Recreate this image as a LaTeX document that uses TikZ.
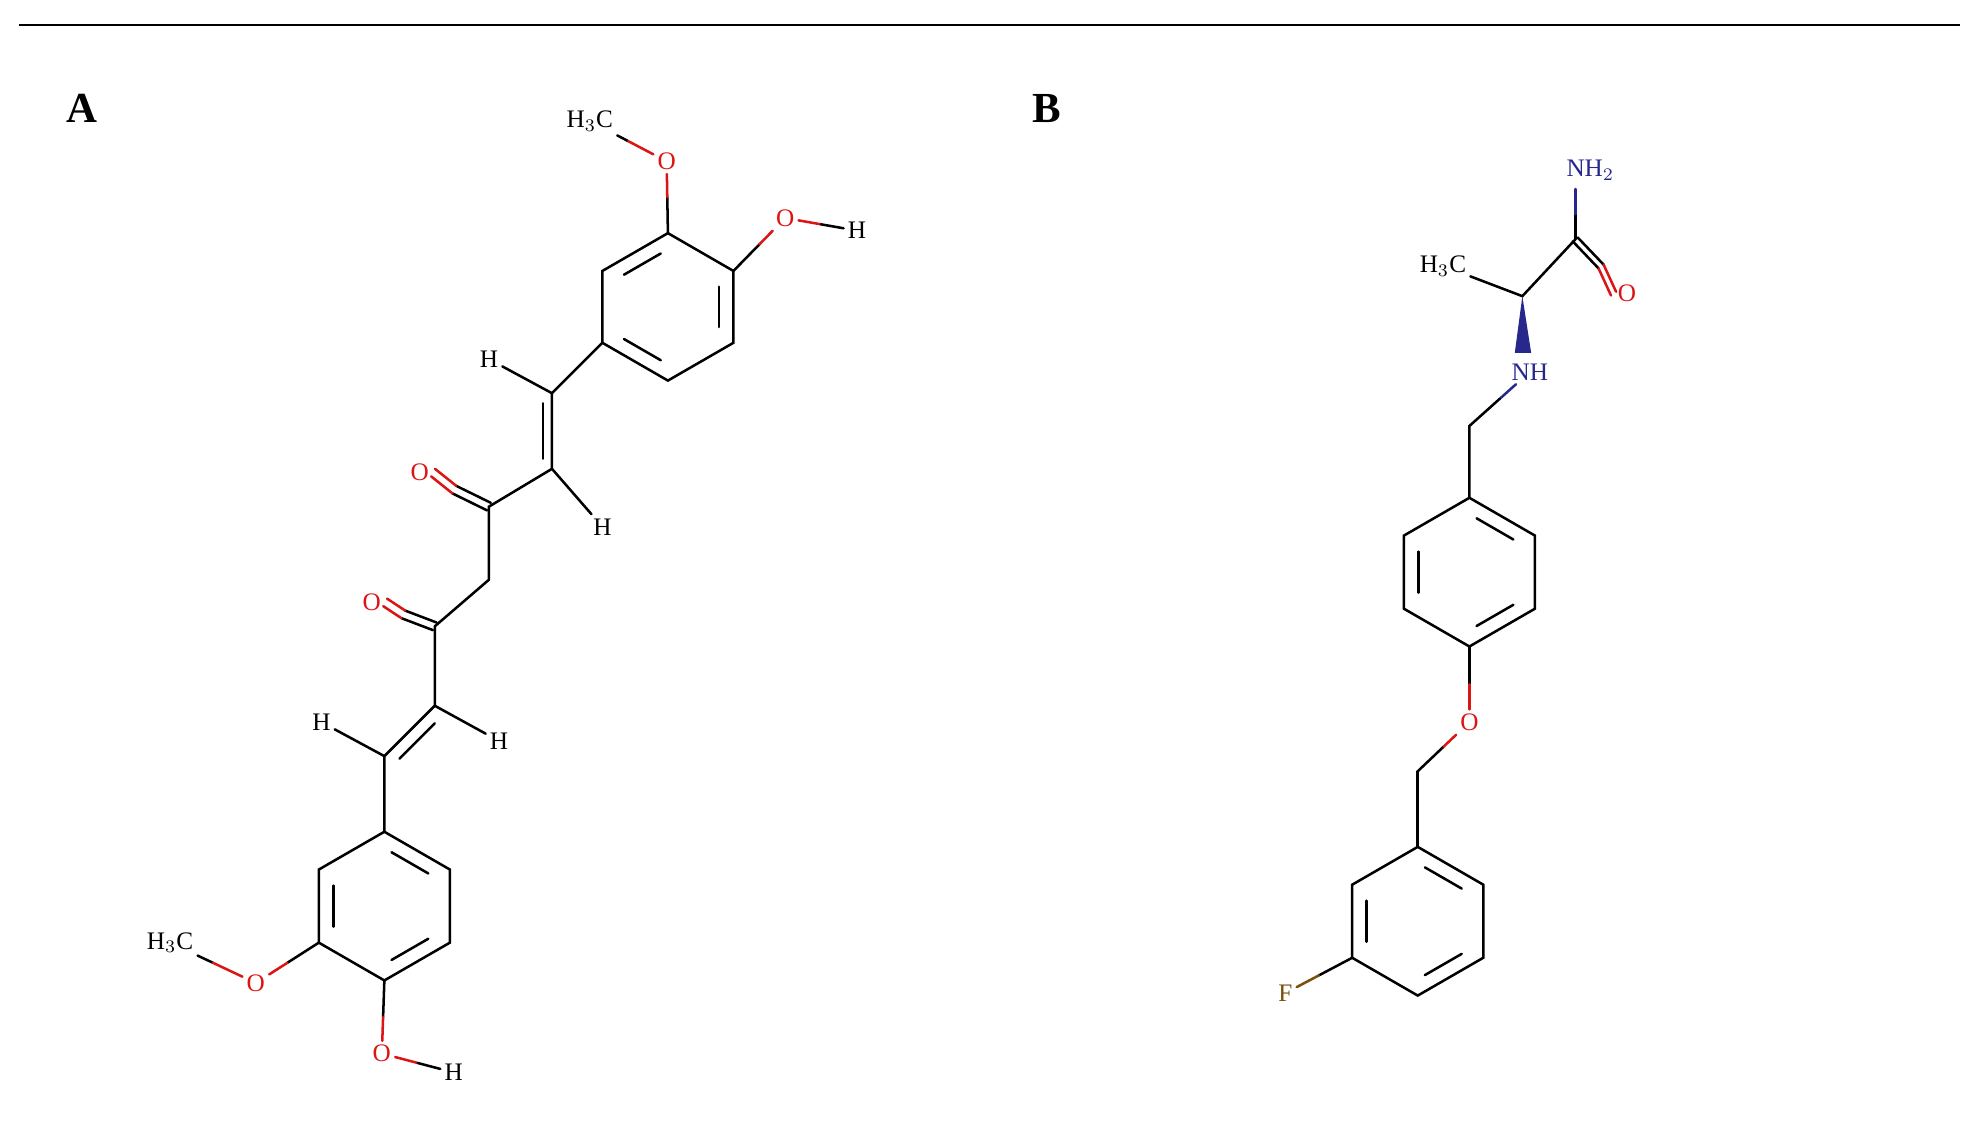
\documentclass[tikz,border=0pt]{standalone}
\usepackage{fontspec}
\setmainfont{Liberation Serif}
\usetikzlibrary{calc}
\definecolor{ored}{RGB}{220,20,20}
\definecolor{nblue}{RGB}{40,40,140}
\definecolor{fbrown}{RGB}{120,80,10}
\newcommand{\innerb}[3]{\draw[bd] ($($(#1)!.78!(#2)$)!.14!($(#1)!.78!(#3)$)$) -- ($($(#1)!.78!(#3)$)!.14!($(#1)!.78!(#2)$)$);}
\newcommand{\hb}[3]{\draw[bd] (#1) -- ($(#1)!.5!(#2)$); \draw[bd,#3] ($(#1)!.5!(#2)$) -- (#2);}
\begin{document}
\begin{tikzpicture}[x=0.5pt,y=-0.5pt,
  bd/.style={line width=1pt,line cap=round},
  lab/.style={font=\fontsize{10}{12}\selectfont,inner sep=1.5pt},
  hd/.style={font=\fontsize{17}{20}\selectfont\bfseries,inner sep=0pt}]
\useasboundingbox (0,0) rectangle (1568,906);
\draw[line width=0.8pt] (15,20) coordinate (l1) -- (1555,20) coordinate (l2);
\node[hd] (hA) at (65,86) {A};
\node[hd] (hB) at (831,86) {B};
% ---------- molecule A ----------
\foreach \n/\x/\y in {r1/530/185,r2/582/215,r3/582/272,r4/530/302,r5/478/272,r6/478/215,rc/530/243.5,
  ca/438/312,cb/438/372,k1/388/402,m/388/460,k2/345/497,cc/345/560,cd/305/600,
  s1/305/660,s2/357/690,s3/357/748,s4/305/778,s5/253/748,s6/253/690,sc/305/719}
  \coordinate (\n) at (\x,\y);
\node[lab,ored] (o1) at (529,128) {O};
\node[lab] (me1) at (468,96) {H$_3$C};
\node[lab,ored] (o2) at (623,173) {O};
\node[lab] (h1) at (680,183) {H};
\node[lab] (ha) at (388,285) {H};
\node[lab] (hb) at (478,418) {H};
\node[lab,ored] (o3) at (333,375) {O};
\node[lab,ored] (o4) at (295,478) {O};
\node[lab] (hc) at (396,588) {H};
\node[lab] (hdd) at (255,573) {H};
\node[lab,ored] (o5) at (203,780) {O};
\node[lab] (me2) at (135,748) {H$_3$C};
\node[lab,ored] (o6) at (303,836) {O};
\node[lab] (h2) at (360,851) {H};
\draw[bd] (r1)--(r2)--(r3)--(r4)--(r5)--(r6)--cycle;
\innerb{rc}{r6}{r1}\innerb{rc}{r2}{r3}\innerb{rc}{r4}{r5}
\hb{r1}{o1}{ored}
\hb{me1}{o1}{ored}
\hb{r2}{o2}{ored}
\draw[bd,ored] (o2) -- ($(o2)!.5!(h1)$); \draw[bd] ($(o2)!.5!(h1)$) -- (h1);
\draw[bd] (r5)--(ca)--(cb)--(k1)--(m)--(k2)--(cc)--(cd)--(s1);
\draw[bd] ($(ca)+(-7,8)$) -- ($(cb)+(-7,-8)$);
\draw[bd] (ca)--(ha); \draw[bd] (cb)--(hb);
\draw[bd] ($(cc)!.15!(cd)+(6,8)$) -- ($(cd)!.15!(cc)+(6,8)$);
\draw[bd] (cc)--(hc); \draw[bd] (cd)--(hdd);
\draw[bd] ($(k1)+(1.5,-3)$) -- ($($(k1)!.5!(o3)$)+(1.5,-3)$); \draw[bd,ored] ($($(k1)!.5!(o3)$)+(1.5,-3)$) -- ($(o3.east)+(1.5,-3)$);
\draw[bd] ($(k1)+(-1.5,3)$) -- ($($(k1)!.5!(o3)$)+(-1.5,3)$); \draw[bd,ored] ($($(k1)!.5!(o3)$)+(-1.5,3)$) -- ($(o3.east)+(-1.5,3)$);
\draw[bd] ($(k2)+(1.5,-3)$) -- ($($(k2)!.5!(o4)$)+(1.5,-3)$); \draw[bd,ored] ($($(k2)!.5!(o4)$)+(1.5,-3)$) -- ($(o4.east)+(1.5,-3)$);
\draw[bd] ($(k2)+(-1.5,3)$) -- ($($(k2)!.5!(o4)$)+(-1.5,3)$); \draw[bd,ored] ($($(k2)!.5!(o4)$)+(-1.5,3)$) -- ($(o4.east)+(-1.5,3)$);
\draw[bd] (s1)--(s2)--(s3)--(s4)--(s5)--(s6)--cycle;
\innerb{sc}{s1}{s2}\innerb{sc}{s3}{s4}\innerb{sc}{s5}{s6}
\hb{s5}{o5}{ored}
\hb{me2}{o5}{ored}
\hb{s4}{o6}{ored}
\draw[bd,ored] (o6) -- ($(o6)!.5!(h2)$); \draw[bd] ($(o6)!.5!(h2)$) -- (h2);
% ---------- molecule B ----------
\foreach \n/\x/\y in {am/1250/190,cal/1208/235,ch1/1166/338,
  p1/1166/395,p2/1218/425,p3/1218/483,p4/1166/513,p5/1114/483,p6/1114/425,pc/1166/454,
  ch2/1125/612,q1/1125/672,q2/1177/702,q3/1177/760,q4/1125/790,q5/1073/760,q6/1073/702,qc/1125/731,
  nb/1250/150,nm/1250/170,w1/1202/280,w2/1215/280}
  \coordinate (\n) at (\x,\y);
\node[lab,nblue] (n1) at (1262,135) {NH$_2$};
\node[lab,ored] (o7) at (1291,233) {O};
\node[lab] (me3) at (1145,211) {H$_3$C};
\node[lab,nblue] (n2) at (1214,295) {NH};
\node[lab,ored] (o8) at (1166,573) {O};
\node[lab,fbrown] (f1) at (1020,788) {F};
\draw[bd] (am) -- (nm); \draw[bd,nblue] (nm) -- (nb);
\draw[bd] ($(am)+(-2,1.5)$) -- ($($(am)!.5!(o7)$)+(-2,1.5)$); \draw[bd,ored] ($($(am)!.5!(o7)$)+(-2,1.5)$) -- ($(o7.west)+(-2,1.5)$);
\draw[bd] ($(am)+(2,-1.5)$) -- ($($(am)!.5!(o7)$)+(2,-1.5)$); \draw[bd,ored] ($($(am)!.5!(o7)$)+(2,-1.5)$) -- ($(o7.west)+(2,-1.5)$);
\draw[bd] (am)--(cal)--(me3);
\fill[nblue] (cal) -- (w2) -- (w1) -- cycle;
\draw[bd,nblue] (n2) -- ($(n2)!.5!(ch1)$); \draw[bd] ($(n2)!.5!(ch1)$) -- (ch1) -- (p1);
\draw[bd] (p1)--(p2)--(p3)--(p4)--(p5)--(p6)--cycle;
\innerb{pc}{p1}{p2}\innerb{pc}{p3}{p4}\innerb{pc}{p5}{p6}
\hb{p4}{o8}{ored}
\hb{ch2}{o8}{ored}
\draw[bd] (ch2)--(q1);
\draw[bd] (q1)--(q2)--(q3)--(q4)--(q5)--(q6)--cycle;
\innerb{qc}{q1}{q2}\innerb{qc}{q3}{q4}\innerb{qc}{q5}{q6}
\hb{q5}{f1}{fbrown}
\end{tikzpicture}
\end{document}
